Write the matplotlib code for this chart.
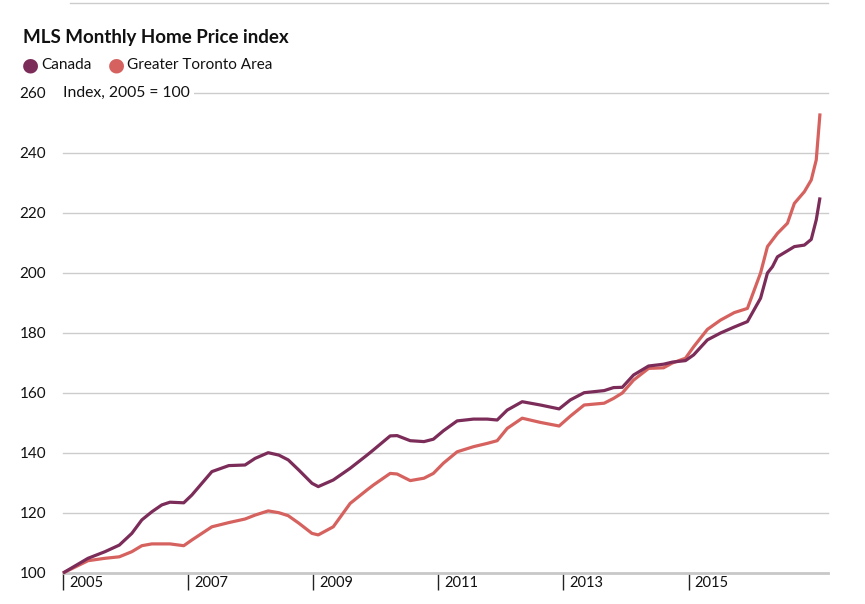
import matplotlib
matplotlib.use("Agg")
import matplotlib.pyplot as plt
import matplotlib.transforms as mtransforms

plt.rcParams['font.family'] = ['Lato', 'DejaVu Sans']

# Data (decimal year, index value, 2005 = 100)
canada_t = [2005.0, 2005.4, 2005.67, 2005.9, 2006.1, 2006.26, 2006.42, 2006.58, 2006.71, 2006.93,
            2007.06, 2007.38, 2007.65, 2007.91, 2008.07, 2008.28, 2008.45, 2008.6, 2008.77, 2008.98,
            2009.08, 2009.32, 2009.59, 2009.86, 2009.96, 2010.23, 2010.34, 2010.55, 2010.77, 2010.92,
            2011.08, 2011.3, 2011.56, 2011.78, 2011.94, 2012.1, 2012.34, 2012.63, 2012.93, 2013.11,
            2013.33, 2013.65, 2013.8, 2013.94, 2014.12, 2014.36, 2014.6, 2014.74, 2014.95, 2015.08,
            2015.3, 2015.51, 2015.73, 2015.94, 2016.15, 2016.26, 2016.34, 2016.42, 2016.58, 2016.69,
            2016.85, 2016.96, 2017.04, 2017.1]
canada = [100, 104.9, 107.1, 109.3, 113.2, 117.7, 120.4, 122.7, 123.6, 123.4,
          126, 133.8, 135.8, 136, 138.2, 140.1, 139.3, 137.7, 134.3, 129.9,
          128.8, 131, 134.9, 139.3, 141, 145.7, 145.8, 144.1, 143.8, 144.6,
          147.4, 150.7, 151.3, 151.3, 151, 154.3, 157.1, 156, 154.7, 157.7,
          160.1, 160.8, 161.8, 161.9, 166, 169, 169.6, 170.3, 170.8, 172.7,
          177.7, 180, 182, 183.8, 191.6, 200, 202.1, 205.4, 207.4, 208.8,
          209.3, 211.2, 217.7, 225.2]

gta_t = [2005.0, 2005.4, 2005.67, 2005.9, 2006.1, 2006.26, 2006.42, 2006.71, 2006.93,
         2007.06, 2007.38, 2007.65, 2007.91, 2008.07, 2008.28, 2008.45, 2008.6, 2008.77, 2008.98,
         2009.08, 2009.32, 2009.59, 2009.86, 2009.96, 2010.23, 2010.34, 2010.55, 2010.77, 2010.92,
         2011.08, 2011.3, 2011.56, 2011.78, 2011.94, 2012.1, 2012.34, 2012.63, 2012.93, 2013.11,
         2013.33, 2013.65, 2013.8, 2013.94, 2014.12, 2014.36, 2014.6, 2014.74, 2014.95, 2015.08,
         2015.3, 2015.51, 2015.73, 2015.94, 2016.15, 2016.26, 2016.42, 2016.58, 2016.69,
         2016.85, 2016.96, 2017.04, 2017.1]
gta = [100, 104.1, 104.9, 105.4, 107.1, 109.1, 109.7, 109.7, 109.1,
       111, 115.4, 116.8, 118, 119.3, 120.7, 120.1, 119.1, 116.6, 113.2,
       112.7, 115.4, 123.2, 127.7, 129.3, 133.2, 133, 130.8, 131.6, 133.2,
       136.6, 140.4, 142.1, 143.2, 144.1, 148.2, 151.6, 150.2, 149, 152.3,
       156, 156.6, 158.2, 160, 164.3, 168.2, 168.4, 170, 171.6, 175.4,
       181.2, 184.3, 186.8, 188.2, 200, 208.8, 213.2, 216.6, 223.2,
       227.1, 231, 237.7, 253.2]

year_ticks = [2005, 2007, 2009, 2011, 2013, 2015]
y_ticks = [100, 120, 140, 160, 180, 200, 220, 240, 260]

canada_color = '#7b2c59'
gta_color = '#d6625f'

fig = plt.figure(figsize=(8.65, 6.04), dpi=100)
ax = fig.add_axes([63 / 865, 1 - 573 / 604, (820 - 63) / 865, (573 - 93) / 604])

ax.plot(canada_t, canada, color=canada_color, lw=2.3, solid_joinstyle='round',
        solid_capstyle='butt', zorder=4, clip_on=False)
ax.plot(gta_t, gta, color=gta_color, lw=2.3, solid_joinstyle='round',
        solid_capstyle='butt', zorder=3, clip_on=False)

ax.set_xlim(2005, 2017.1)
ax.set_ylim(100, 260)

# gridlines
for v in y_ticks[1:]:
    ax.axhline(v, color='#cccccc', lw=1, zorder=1, xmax=1.01, clip_on=False)
ax.axhline(100, color='#c8c8c8', lw=2, zorder=2, xmax=1.01, clip_on=False)

for s in ax.spines.values():
    s.set_visible(False)

ax.set_yticks(y_ticks)
ax.set_yticklabels([str(v) for v in y_ticks])
ax.tick_params(axis='y', length=0, pad=12, labelsize=11, labelcolor='#111111')

ax.set_xticks(year_ticks)
ax.set_xticklabels([str(y) for y in year_ticks])
ax.tick_params(axis='x', length=12, width=1, color='#222222', pad=-10, labelsize=10.5,
               labelcolor='#111111', direction='out')
offset = mtransforms.ScaledTranslation(6 / 100, 0, fig.dpi_scale_trans)
for lbl in ax.get_xticklabels():
    lbl.set_horizontalalignment('left')
    lbl.set_transform(lbl.get_transform() + offset)
    lbl.set_verticalalignment('top')

# unit label sitting on the top gridline
ax.text(2005.0, 260, 'Index, 2005 = 100', fontsize=11.3, color='#111111', va='center', ha='left',
        bbox=dict(facecolor='white', edgecolor='none', pad=3), zorder=5)

# title and legend
fig.add_artist(plt.Line2D([70 / 865, 828 / 865], [1 - 3 / 604, 1 - 3 / 604], color='#cccccc', lw=1))
fig.text(23 / 865, 1 - 38 / 604, 'MLS Monthly Home Price index', fontsize=13.5, fontweight='bold',
         color='#111111', va='center', ha='left')
fig.text(30 / 865, 1 - 65 / 604, '\u25cf', fontsize=14, color=canada_color, va='center', ha='center',
         family='DejaVu Sans')
fig.text(41 / 865, 1 - 65 / 604, 'Canada', fontsize=11, color='#111111', va='center', ha='left')
fig.text(116 / 865, 1 - 65 / 604, '\u25cf', fontsize=14, color=gta_color, va='center', ha='center',
         family='DejaVu Sans')
fig.text(127 / 865, 1 - 65 / 604, 'Greater Toronto Area', fontsize=11, color='#111111', va='center', ha='left')

fig.savefig('out.png', dpi=100)
